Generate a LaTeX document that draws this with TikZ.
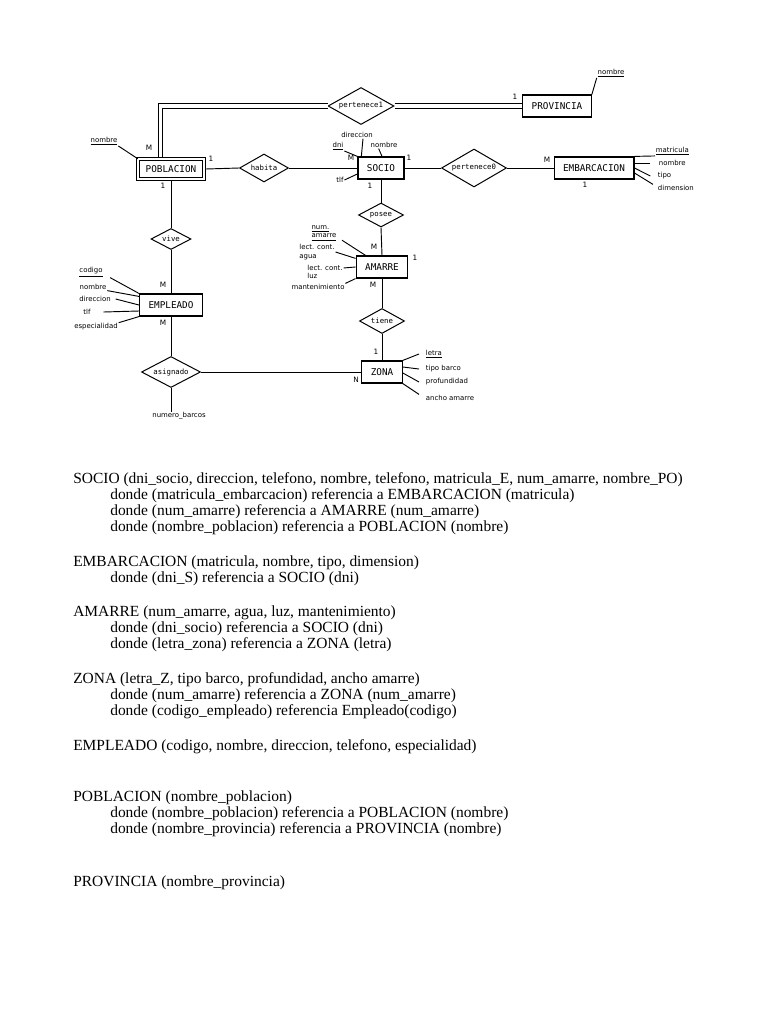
\documentclass[tikz,border=0pt]{standalone}
\usepackage{fontspec}
\setmainfont{Liberation Serif}
\newfontfamily\diagsans{DejaVu Sans}
\newfontfamily\diagmono{DejaVu Sans Mono}
\usetikzlibrary{shapes.geometric}

\begin{document}
\begin{tikzpicture}[x=0.75pt, y=-0.75pt,
    entity/.style={draw, line width=0.9pt, minimum height=16.5pt, inner xsep=6.75pt, inner ysep=0pt,
        font=\diagmono\fontsize{7}{8}\selectfont},
    weak/.style={entity, double, double distance=1.5pt, line width=0.75pt, minimum height=14.5pt, inner xsep=5.5pt},
    rel/.style={diamond, draw, line width=0.75pt, inner sep=0pt, aspect=2,
        font=\diagmono\fontsize{5.5}{6}\selectfont},
    attr/.style={inner sep=0.5pt, align=left, font=\diagsans\fontsize{5.2}{6.5}\selectfont},
    card/.style={inner sep=0pt, font=\diagsans\fontsize{5.5}{6}\selectfont},
    link/.style={line width=0.7pt},
    dbl/.style={double, double distance=2.4pt, line width=0.85pt},
    tab/.style={anchor=base west, inner sep=0pt, align=left, font=\fontsize{11.6}{12}\selectfont}]
\useasboundingbox (0,0) rectangle (768,1024);

% entidades
\node[entity] (prov) at (557,106) {PROVINCIA};
\node[weak] (pob) at (171,169) {POBLACION};
\node[entity] (soc) at (381,168) {SOCIO};
\node[entity] (emb) at (594,168) {EMBARCACION};
\node[entity] (ama) at (382,267) {AMARRE};
\node[entity] (emp) at (171,305) {EMPLEADO};
\node[entity] (zon) at (382,372) {ZONA};

% relaciones
\node[rel, minimum width=49.5pt, minimum height=27.75pt] (per1) at (361,106) {pertenece1};
\node[rel, minimum width=36.75pt, minimum height=21pt] (hab) at (264,168) {habita};
\node[rel, minimum width=48.75pt, minimum height=28.5pt] (per0) at (474,168) {pertenece0};
\node[rel, minimum width=33.75pt, minimum height=18pt] (pos) at (381,215) {posee};
\node[rel, minimum width=33.75pt, minimum height=18.75pt] (tie) at (382,321) {tiene};
\node[rel, minimum width=30pt, minimum height=15.75pt] (viv) at (171,239) {vive};
\node[rel, minimum width=44.25pt, minimum height=23.25pt] (asi) at (171,372) {asignado};

% uniones
\draw[dbl] (per1.west) -| ([xshift=-7.9pt,yshift=1.6pt]pob.north);
\draw[dbl] (per1.east) -- (prov.west);
\draw[link] ([xshift=1.5pt]pob.east) -- (hab.west);
\draw[link] (hab.east) -- (soc.west);
\draw[link] (soc.east) -- (per0.west);
\draw[link] (per0.east) -- (emb.west);
\draw[link] (soc.south) -- (pos.north);
\draw[link] (pos.south) -- (ama.north);
\draw[link] (ama.south) -- (tie.north);
\draw[link] (tie.south) -- (zon.north);
\draw[link] ([yshift=-1.5pt]pob.south) -- (viv.north);
\draw[link] (viv.south) -- (emp.north);
\draw[link] (emp.south) -- (asi.north);
\draw[link] (asi.east) -- (zon.west);

% cardinalidades
\node[card] (c-prov) at (515,97) {1};
\node[card] (c-pob-m) at (149,148) {M};
\node[card] (c-pob-r) at (211,159) {1};
\node[card] (c-pob-b) at (163,186) {1};
\node[card] (c-soc-m) at (351,158) {M};
\node[card] (c-soc-r) at (409,158) {1};
\node[card] (c-soc-b) at (370,186) {1};
\node[card] (c-emb-m) at (547,160) {M};
\node[card] (c-emb-b) at (585,185) {1};
\node[card] (c-ama-t) at (374,247) {M};
\node[card] (c-ama-r) at (415,258) {1};
\node[card] (c-ama-b) at (373,285) {M};
\node[card] (c-zon-t) at (376,352) {1};
\node[card] (c-zon-l) at (356,380) {N};
\node[card] (c-emp-t) at (163,285) {M};
\node[card] (c-emp-b) at (163,323) {M};

% atributos
\node[attr] (a-provn) at (611,73) {\underline{nombre}};
\draw[link] (a-provn.south west) -- (prov.north east);
\node[attr] (a-pobn) at (104,141) {\underline{nombre}};
\draw[link] (a-pobn.south east) -- (pob.north west);

\node[attr] (a-dir) at (357,135) {direccion};
\draw[link] ([xshift=4.5pt]a-dir.south) -- ([xshift=3pt]soc.north west);
\node[attr] (a-socn) at (384,145) {nombre};
\draw[link] ([xshift=-4pt]a-socn.south) -- ([xshift=0.75pt]soc.north);
\node[attr] (a-dni) at (338,146) {\underline{dni}};
\draw[link] (a-dni.south east) -- (soc.north west);
\node[attr] (a-tlf) at (340,180) {tlf};
\draw[link] (a-tlf.east) -- ([yshift=-4.5pt]soc.west);

\node[attr, anchor=west] (a-matr) at (655,151) {\underline{matricula}};
\draw[link] (emb.north east) -- (a-matr.south west);
\node[attr, anchor=west] (a-embn) at (658,163) {nombre};
\draw[link] ([yshift=3.75pt]emb.east) -- ([xshift=-6pt]a-embn.west);
\node[attr, anchor=west] (a-tipo) at (657,176) {tipo};
\draw[link] (emb.east) -- ([xshift=-5pt]a-tipo.west);
\node[attr, anchor=west] (a-dim) at (657,188) {dimension};
\draw[link] ([yshift=-3.75pt]emb.east) -- ([xshift=-3pt]a-dim.north west);

\node[attr] (a-num) at (324,233) {\underline{num.}\\\underline{amarre}};
\draw[link] ([xshift=3.5pt,yshift=1pt]a-num.south east) -- ([xshift=7.5pt]ama.north west);
\node[attr] (a-agua) at (317,252) {lect. cont.\\agua};
\draw[link] (a-agua.east) -- ([yshift=-2.25pt]ama.north west);
\node[attr] (a-luz) at (325,272) {lect. cont.\\luz};
\draw[link] ([yshift=3pt]a-luz.east) -- (ama.west);
\node[attr] (a-mant) at (318,287) {mantenimiento};
\draw[link] (a-mant.north east) -- (ama.south west);

\node[attr, anchor=west] (a-letra) at (425,354) {\underline{letra}};
\draw[link] (zon.north east) -- ([xshift=-4.5pt]a-letra.west);
\node[attr, anchor=west] (a-tb) at (425,369) {tipo barco};
\draw[link] ([yshift=3.75pt]zon.east) -- ([xshift=-4.5pt]a-tb.west);
\node[attr, anchor=west] (a-prof) at (425,382) {profundidad};
\draw[link] ([yshift=-0.75pt]zon.east) -- ([xshift=-4.5pt]a-prof.west);
\node[attr, anchor=west] (a-anc) at (425,398) {ancho amarre};
\draw[link] (zon.south east) -- ([xshift=-4.5pt]a-anc.north west);

\node[attr] (a-cod) at (91,272) {\underline{codigo}};
\draw[link] ([xshift=5pt]a-cod.south east) -- (emp.north west);
\node[attr] (a-empn) at (93,287) {nombre};
\draw[link] (a-empn.south east) -- ([yshift=-2.25pt]emp.north west);
\node[attr] (a-empd) at (95,299) {direccion};
\draw[link] ([xshift=3pt]a-empd.east) -- (emp.west);
\node[attr] (a-tlfe) at (87,312) {tlf};
\draw[link] ([xshift=9pt]a-tlfe.east) -- ([yshift=-4.5pt]emp.west);
\node[attr] (a-esp) at (96,327) {especialidad};
\draw[link] (a-esp.north east) -- (emp.south west);

\node[attr] (a-numb) at (179,416) {numero\_barcos};
\draw[link] (asi.south) -- ([xshift=-6pt]a-numb.north);

% tablas (base = ultima linea)
\node[tab] (t-socio) at (73,531) {SOCIO (dni\_socio, direccion, telefono, nombre, telefono, matricula\_E, num\_amarre, nombre\_PO)\\
    \hspace*{27.75pt}donde (matricula\_embarcacion) referencia a EMBARCACION (matricula)\\
    \hspace*{27.75pt}donde (num\_amarre) referencia a AMARRE (num\_amarre)\\
    \hspace*{27.75pt}donde (nombre\_poblacion) referencia a POBLACION (nombre)};
\node[tab] (t-emb) at (73,582) {EMBARCACION (matricula, nombre, tipo, dimension)\\
    \hspace*{27.75pt}donde (dni\_S) referencia a SOCIO (dni)};
\node[tab] (t-ama) at (73,648) {AMARRE (num\_amarre, agua, luz, mantenimiento)\\
    \hspace*{27.75pt}donde (dni\_socio) referencia a SOCIO (dni)\\
    \hspace*{27.75pt}donde (letra\_zona) referencia a ZONA (letra)};
\node[tab] (t-zona) at (73,715) {ZONA (letra\_Z, tipo barco, profundidad, ancho amarre)\\
    \hspace*{27.75pt}donde (num\_amarre) referencia a ZONA (num\_amarre)\\
    \hspace*{27.75pt}donde (codigo\_empleado) referencia Empleado(codigo)};
\node[tab] (t-emp) at (73,750) {EMPLEADO (codigo, nombre, direccion, telefono, especialidad)};
\node[tab] (t-pob) at (73,833) {POBLACION (nombre\_poblacion)\\
    \hspace*{27.75pt}donde (nombre\_poblacion) referencia a POBLACION (nombre)\\
    \hspace*{27.75pt}donde (nombre\_provincia) referencia a PROVINCIA (nombre)};
\node[tab] (t-prov) at (73,886) {PROVINCIA (nombre\_provincia)};
\end{tikzpicture}
\end{document}
